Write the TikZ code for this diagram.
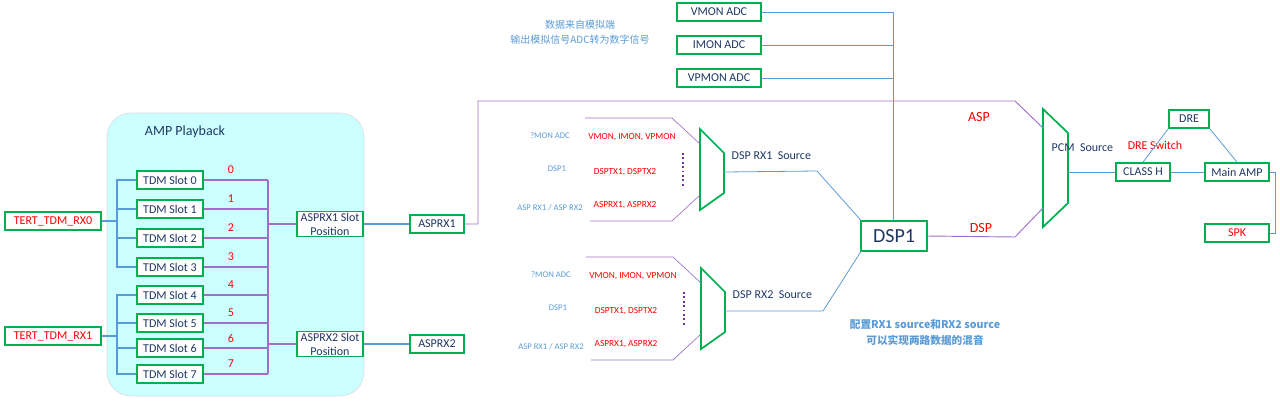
\documentclass[tikz,border=0pt]{standalone}
\usepackage{fontspec}
\setmainfont{Carlito}
\newfontfamily\cjk{Noto Sans CJK SC}
\begin{document}
\begin{tikzpicture}[x=0.75pt,y=-0.75pt,
 box/.style={draw=boxg,line width=1.3pt,fill=white,inner sep=1pt,font=\fontsize{9}{10.5}\selectfont,text=navy,minimum height=13.5pt,align=center},
 bl/.style={draw=lblue,line width=0.6pt},
 pl/.style={draw=lpurp,line width=0.7pt},
 rd/.style={text=red,font=\fontsize{9}{10}\selectfont},
 sm/.style={font=\fontsize{6.5}{8}\selectfont},
 tx/.style={text=navy,font=\fontsize{9}{10}\selectfont}]
\definecolor{boxg}{HTML}{00B050}
\definecolor{navy}{HTML}{1F3864}
\definecolor{lblue}{HTML}{5B9BD5}
\definecolor{lpurp}{HTML}{A070C8}
\definecolor{txb}{HTML}{5B9BD5}
\definecolor{cy}{HTML}{CCFFFF}
\definecolor{dotc}{HTML}{7030A0}
\useasboundingbox (0,0) rectangle (1280,401);
\path[fill=cy,draw=gray!30,rounded corners=18pt] (107,113) rectangle (364,396);
\node[tx,font=\fontsize{10.5}{12}\selectfont] (title) at (185,132) {AMP Playback};
% TDM slots
\node[box,text=red,minimum width=72pt] (rx0) at (53,221) {TERT\_TDM\_RX0};
\node[box,text=red,minimum width=72pt] (rx1) at (53,336) {TERT\_TDM\_RX1};
\node[box,minimum width=50pt] (p1) at (330,224) {ASPRX1 Slot\\Position};
\node[box,minimum width=50pt] (p2) at (330,344) {ASPRX2 Slot\\Position};
\foreach \i/\y in {0/180,1/209,2/238,3/267,4/295,5/323,6/348,7/374}{
  \node[box,minimum width=50pt] (s\i) at (170,\y) {TDM Slot \i};
  \node[rd] (n\i) at (231,\y-10) {\i};
  \draw[pl,line width=1pt] (s\i.east) -- (268,\y);
}
\coordinate (b0) at (117,221);
\coordinate (b1) at (117,336);
\draw[bl,line width=1pt] (rx0) -- (b0);
\draw[bl,line width=1pt] (rx1) -- (b1);
\foreach \i in {0,1,2,3}{\draw[bl,line width=1pt] (b0) |- (s\i.west);}
\foreach \i in {4,5,6,7}{\draw[bl,line width=1pt] (b1) |- (s\i.west);}
\draw[pl,line width=1pt] (268,180) -- (268,374);
\draw[pl,line width=1pt] (268,224) -- (p1.west);
\draw[pl,line width=1pt] (268,344) -- (p2.west);
\node[box,minimum width=40pt] (a1) at (437,224) {ASPRX1};
\node[box,minimum width=40pt] (a2) at (437,344) {ASPRX2};
\draw[bl,line width=1pt] (p1) -- (a1);
\draw[bl,line width=1pt] (p2) -- (a2);
% ADCs
\node[box,minimum width=63pt] (vm) at (719,12) {VMON ADC};
\node[box,minimum width=63pt] (im) at (719,45) {IMON ADC};
\node[box,minimum width=63pt] (vp) at (719,78) {VPMON ADC};
\draw[bl] (vm.east) -- (893,12) -- (893,221);
\draw[bl] (im.east) -- (893,45);
\draw[bl] (vp.east) -- (893,78);
\node[box,minimum width=49pt,minimum height=23pt,font=\fontsize{15}{16}\selectfont] (dsp) at (894,236) {DSP1};
\node[text=txb,font=\cjk\fontsize{7.5}{11}\selectfont,align=center] (cn1) at (580,32) {数据来自模拟端\\输出模拟信号ADC转为数字信号};
% PCM mux
\draw[boxg,line width=1.3pt] (1043,109) -- (1068,133) -- (1068,203) -- (1043,227) -- cycle;
\coordinate (pcmA) at (1043,128);
\coordinate (pcmD) at (1043,208);
\coordinate (pcmO) at (1068,172);
\node[tx,anchor=west] (pcml) at (1047,148) {PCM\ \ Source};
\draw[pl] (a1.east) -- (478,224) -- (478,101) -- (1015,101) -- (pcmA);
\draw[pl] (dsp.east) -- (1015,237) -- (pcmD);
\node[text=red,font=\fontsize{10.5}{12}\selectfont] (asp) at (979,117) {ASP};
\node[text=red,font=\fontsize{10.5}{12}\selectfont] (dspl) at (981,228) {DSP};
% RX muxes
\foreach \k/\o/\d in {1/0/0,2/139/1}{
 \begin{scope}[yshift=-\o*0.75pt,xshift=\d*0.75pt]
  \draw[boxg,line width=1.3pt] (700,129) -- (724,153) -- (724,193) -- (700,210) -- cycle;
  \coordinate (m\k a) at (700,144);
  \coordinate (m\k c) at (700,195);
  \coordinate (m\k o) at (724,172);
  \draw[pl,line width=0.5pt] (585,118) -- (672,118) -- (m\k a);
  \draw[pl,line width=0.5pt] (590,221) -- (672,221) -- (m\k c);
  \node[sm,text=txb] (l1\k) at (550,136) {?MON ADC};
  \node[sm,text=txb] (l2\k) at (557,169) {DSP1};
  \node[sm,text=txb] (l3\k) at (550,208) {ASP RX1 / ASP RX2};
  \node[text=red,font=\fontsize{7}{8}\selectfont] (r1\k) at (632,137) {VMON, IMON, VPMON};
  \node[text=red,font=\fontsize{7}{8}\selectfont] (r2\k) at (625,172) {DSPTX1, DSPTX2};
  \node[text=red,font=\fontsize{7}{8}\selectfont] (r3\k) at (625,205) {ASPRX1, ASPRX2};
  \draw[dotc,line width=1.3pt,dotted] (683,153) -- (683,186);
  \node[tx,anchor=west] (src\k) at (727,156) {DSP RX\k\ \ Source};
 \end{scope}
}
\draw[bl] (m1o) -- (817,171) -- (dsp.north west);
\draw[bl] (m2o) -- (823,311) -- (dsp.south west);
\node[text=txb,font=\cjk\bfseries\fontsize{8}{12}\selectfont,align=center] (cn2) at (925,333) {配置RX1 source和RX2 source\\可以实现两路数据的混音};
% right chain
\node[box,minimum width=41pt] (ch) at (1143,172) {CLASS H};
\node[box,minimum width=30pt] (dre) at (1189,119) {DRE};
\node[box,minimum width=48pt] (ma) at (1237,172) {Main AMP};
\node[box,minimum width=48pt,text=red] (spk) at (1237,233) {SPK};
\node[rd] (drs) at (1155,145) {DRE Switch};
\draw[bl] (pcmO) -- (ch);
\draw[bl] (ch) -- (ma);
\draw[bl] (dre.south west) -- (ch.north);
\draw[bl] (dre.south east) -- (ma.north);
\draw[bl] (ma.east) -- (1275,172) -- (1275,233) -- (spk.east);
\end{tikzpicture}
\end{document}
